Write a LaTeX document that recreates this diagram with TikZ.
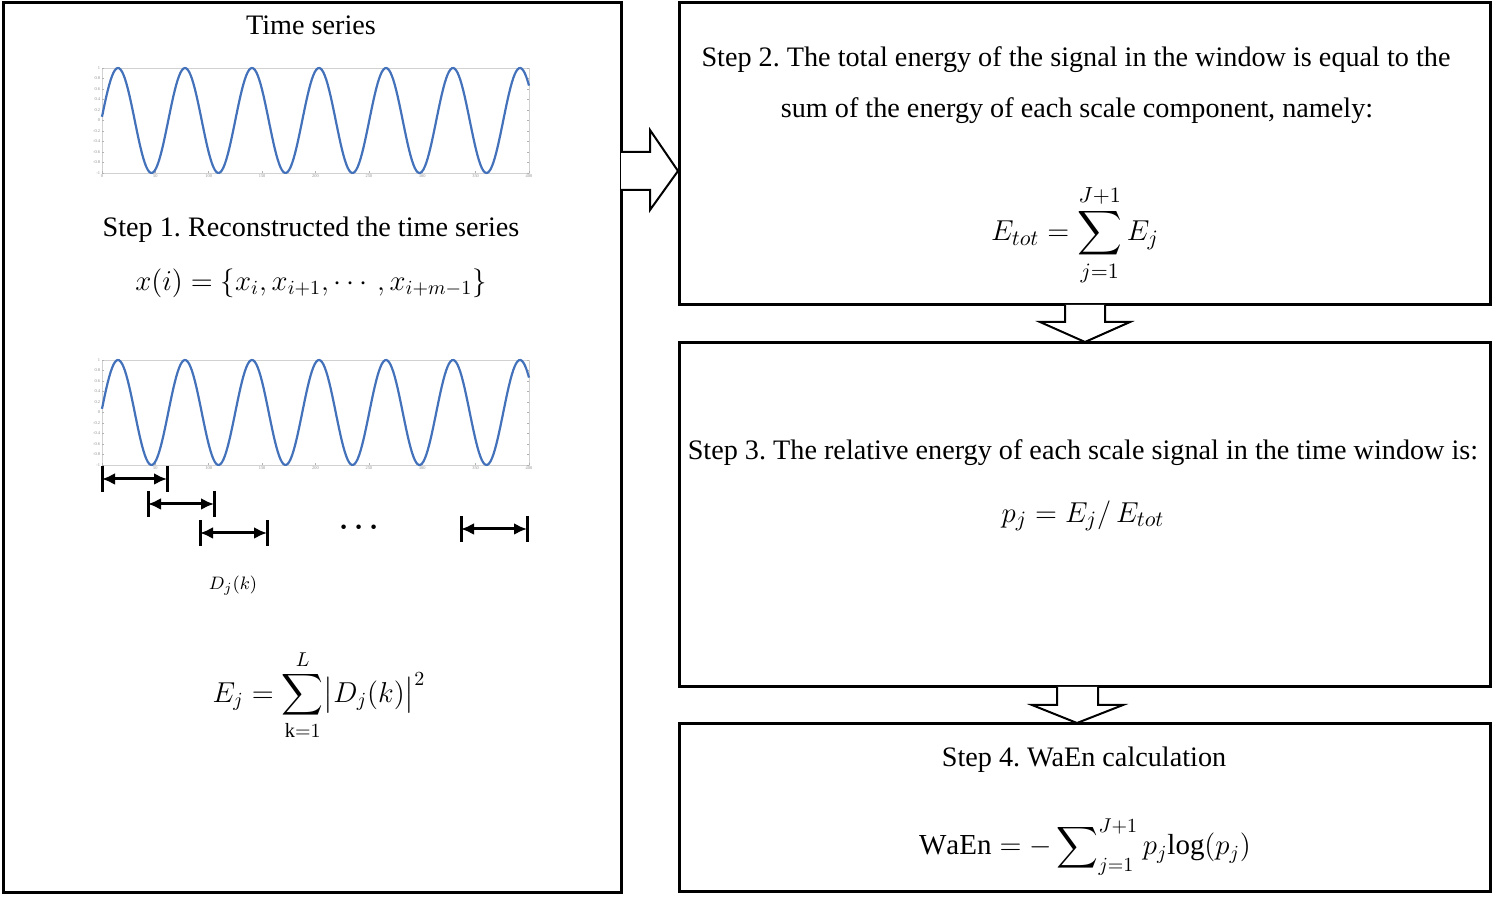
\documentclass[tikz,border=0pt]{standalone}
\usepackage{amsmath, amssymb}
\usepackage{fontspec}
\setmainfont{Liberation Serif}
\usepackage{xcolor}
\usetikzlibrary{calc, positioning, fit, arrows.meta}
\frenchspacing

\definecolor{sineblue}{RGB}{68,114,186}

\begin{document}
\begin{tikzpicture}[>={Latex[length=6.5pt,width=6pt]}, x=0.5pt, y=-0.5pt,
    box/.style={draw, line width=1.5pt, inner sep=0pt},
    txt/.style={font=\fontsize{14.1}{16}\selectfont, inner sep=0pt},
    mtxt/.style={font=\fontsize{15.5}{18}\selectfont, inner sep=0pt},
    hollow/.style={line width=1pt, line join=miter},
    wave/.style={sineblue, line width=1.1pt},
    axisframe/.style={draw=black!18, line width=0.4pt},
    ticklbl/.style={font=\fontsize{2.2}{2.2}\selectfont, text=black!45, inner sep=0.3pt},
    span/.style={<->, line width=1.5pt},
    bar/.style={line width=1.5pt}]
    \useasboundingbox (0,0) rectangle (1500,913);

    % 1. Khung các bước
    \node[box, fit={(3,3) (621,893)}] (step1) {};
    \node[box, fit={(679,3) (1490,305)}] (step2) {};
    \node[box, fit={(679,343) (1490,687)}] (step3) {};
    \node[box, fit={(679,724) (1490,892)}] (step4) {};

    % 2. Mũi tên rỗng
    \fill[white] (621,152) -- (650,152) -- (650,130) -- (678,171) -- (650,210) -- (650,190) -- (621,190) -- cycle;
    \draw[hollow] (621,152) -- (650,152) -- (650,130) -- (678,171) -- (650,210) -- (650,190) -- (621,190);
    \fill[white] (1065,305) -- (1065,322) -- (1040,322) -- (1085,342) -- (1130,322) -- (1105,322) -- (1105,305) -- cycle;
    \draw[hollow] (1065,305) -- (1065,322) -- (1040,322) -- (1085,342) -- (1130,322) -- (1105,322) -- (1105,305);
    \fill[white] (1057,687) -- (1057,705) -- (1032,705) -- (1077,723) -- (1123,705) -- (1098,705) -- (1098,687) -- cycle;
    \draw[hollow] (1057,687) -- (1057,705) -- (1032,705) -- (1077,723) -- (1123,705) -- (1098,705) -- (1098,687);

    % 3. Hai đồ thị chuỗi thời gian
    \foreach \dy in {0,292} {
        \draw[axisframe] (102,68+\dy) rectangle (529,173+\dy);
        \foreach \k in {0,...,10} {
            \draw[black!30, line width=0.3pt] (102,68+10.5*\k+\dy) -- (104,68+10.5*\k+\dy);
            \draw[black!30, line width=0.3pt] (529,68+10.5*\k+\dy) -- (527,68+10.5*\k+\dy);
        }
        \foreach \lbl [count=\k from 0] in {1,0.8,0.6,0.4,0.2,0,-0.2,-0.4,-0.6,-0.8,-1} {
            \node[ticklbl, anchor=east] at (101,68+10.5*\k+\dy) {\lbl};
        }
        \foreach \lbl [count=\k from 0] in {0,50,100,150,200,250,300,350,400} {
            \draw[black!30, line width=0.3pt] (102+53.375*\k,173+\dy) -- (102+53.375*\k,171+\dy);
            \node[ticklbl, anchor=north] at (102+53.375*\k,174+\dy) {\lbl};
        }
        \draw[wave, samples=300, domain=102:529]
            plot (\x, {120.5+\dy - 52.5*cos(5.3731*(\x-118))});
    }

    % 4. Các đoạn cửa sổ
    \foreach \a/\b/\y [count=\i] in {102/167/479, 148/214/504, 200/267/533, 461/527/529} {
        \coordinate (w\i l) at (\a,\y);
        \coordinate (w\i r) at (\b,\y);
        \draw[bar] (\a,\y-13) -- (\a,\y+13);
        \draw[bar] (\b,\y-13) -- (\b,\y+13);
        \draw[span] (w\i l) -- (w\i r);
    }
    \node[mtxt, font=\fontsize{15}{18}\selectfont\boldmath] (dots) at (362,528) {$\cdots$};

    % 5. Văn bản và công thức
    \node[txt] (title) at (311,25) {Time series};
    \node[txt] (s1text) at (311,230) {Step 1. Reconstructed the time series};
    \node[mtxt, font=\fontsize{14.2}{17}\selectfont] (s1eq) at (311,283) {$x(i)=\{x_i,x_{i+1},\cdots,x_{i+m-1}\}$};
    \node[txt, font=\fontsize{9.5}{11}\selectfont] (dlabel) at (233,586) {$D_j(k)$};
    \node[mtxt, font=\fontsize{14.5}{17}\selectfont] (ejeq) at (319,695) {$\displaystyle E_j=\sum_{\mathrm{k}=1}^{L}\bigl|D_j(k)\bigr|^2$};

    \node[txt] (s2text) at (1076,60) {Step 2. The total energy of the signal in the window is equal to the};
    \node[txt] (s2more) at (1077,111) {sum of the energy of each scale component, namely:};
    \node[mtxt] (s2eq) at (1075,235) {$\displaystyle E_{tot}=\sum_{j=1}^{J+1}E_j$};

    \node[txt] (s3text) at (1083,453) {Step 3. The relative energy of each scale signal in the time window is:};
    \node[mtxt] (s3eq) at (1083,516) {$p_j=E_j/\,E_{tot}$};

    \node[txt] (s4text) at (1084,760) {Step 4. WaEn calculation};
    \node[mtxt, font=\fontsize{14.5}{17}\selectfont] (s4eq) at (1085,847) {$\displaystyle \mathrm{WaEn}=-\sum\nolimits_{j=1}^{J+1}p_j\mathrm{log}(p_j)$};
\end{tikzpicture}
\end{document}
